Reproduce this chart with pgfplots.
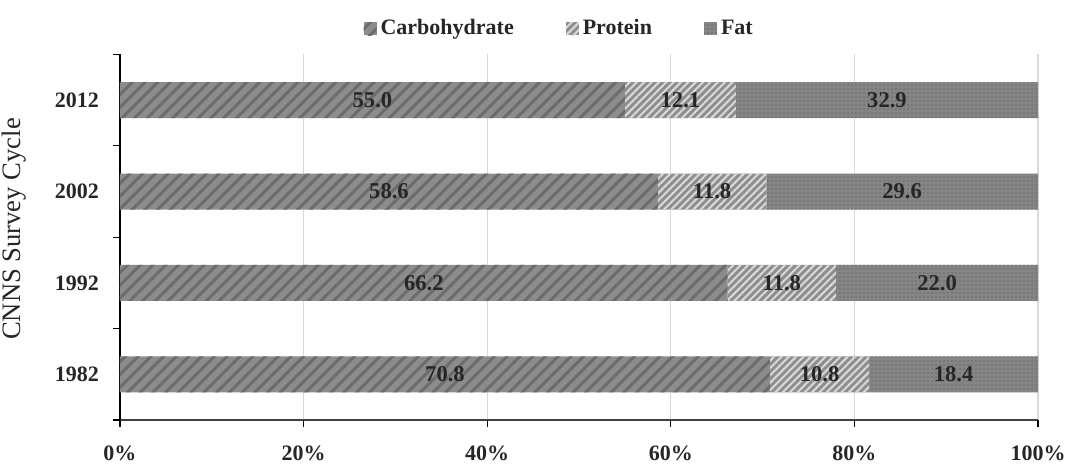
\documentclass[border=0pt]{standalone}
\usepackage{pgfplots}
\pgfplotsset{compat=1.18}
\usepackage{pgfplotstable}
\usepackage{fontspec}
\setmainfont{Liberation Serif}
\usetikzlibrary{patterns.meta}
\definecolor{carbbase}{HTML}{8C8C8C}
\definecolor{carbline}{HTML}{6C6C6C}
\definecolor{protbase}{HTML}{8E8E8E}
\definecolor{protline}{HTML}{DADADA}
\definecolor{fatbase}{HTML}{858585}
\definecolor{fatdot}{HTML}{6A6A6A}
\pgfplotstableread{
y carb prot fat
0 70.8 10.8 18.4
1 66.2 11.8 22.0
2 58.6 11.8 29.6
3 55.0 12.1 32.9
}\data
\begin{document}
\begin{tikzpicture}
\begin{axis}[
 xbar stacked, bar width=18pt,
 scale only axis, width=459pt, height=182.75pt,
 xmin=0, xmax=100, ymin=-0.5, ymax=3.5,
 axis lines*=left,
 x axis line style={black!75, line width=0.8pt},
 y axis line style={black, line width=0.6pt},
 tick align=outside, major tick length=3.5pt,
 tick style={black, line width=0.6pt},
 xtick={0,20,40,60,80,100},
 xticklabels={0\%,20\%,40\%,60\%,80\%,100\%},
 xmajorgrids, grid style={black!15, line width=0.6pt},
 ytick={-0.5,0.5,1.5,2.5,3.5}, yticklabels={},
 extra y ticks={0,1,2,3},
 extra y tick labels={1982,1992,2002,2012},
 extra y tick style={major tick length=0pt, grid=none, yticklabel style={xshift=-7pt}},
 ticklabel style={font=\fontsize{11}{13}\selectfont\bfseries, text=black!85},
 xticklabel style={yshift=-6pt},
 /pgf/number format/assume math mode=true,
 ylabel={CNNS Survey Cycle},
 every axis y label/.style={at={(axis description cs:-0.1155,0.5226)}, rotate=90, anchor=center, font=\fontsize{13.3}{16}\selectfont, text=black!85},
 legend style={at={(axis description cs:0.4795,1)}, anchor=center, yshift=12.75pt,
   draw=none, fill=none, legend columns=-1,
   font=\fontsize{11}{13}\selectfont\bfseries, text=black!85,
   nodes={text height=7.6pt, text depth=2.4pt},
   /tikz/every even column/.append style={column sep=24pt}},
 legend image code/.code={\fill[#1] (0pt,-3.25pt) rectangle (6.5pt,3.25pt);},
 nodes near coords={\pgfmathprintnumber[fixed,fixed zerofill,precision=1]{\pgfplotspointmeta}},
 every node near coord/.append style={anchor=center, font=\fontsize{11.3}{13}\selectfont\bfseries, text=black!85},
]
\addplot[draw=none, fill=carbbase, postaction={pattern={Lines[angle=45,distance=4.5pt,line width=1.5pt]}, pattern color=carbline},
  point meta=\thisrow{carb}]
  table[x=carb, y=y]{\data};
\addlegendentry{Carbohydrate}
\addplot[draw=none, fill=protbase, postaction={pattern={Lines[angle=45,distance=2.6pt,line width=1pt]}, pattern color=protline},
  point meta=\thisrow{prot}]
  table[x=prot, y=y]{\data};
\addlegendentry{Protein}
\addplot[draw=none, fill=fatbase, postaction={pattern={Dots[distance=2pt,radius=0.45pt]}, pattern color=fatdot},
  point meta=\thisrow{fat}]
  table[x=fat, y=y]{\data};
\addlegendentry{Fat}
\end{axis}
\pgfresetboundingbox
\path ([shift={(-60pt,-24.5pt)}]current axis.south west) rectangle ([shift={(21pt,27.25pt)}]current axis.north east);
\end{tikzpicture}
\end{document}
